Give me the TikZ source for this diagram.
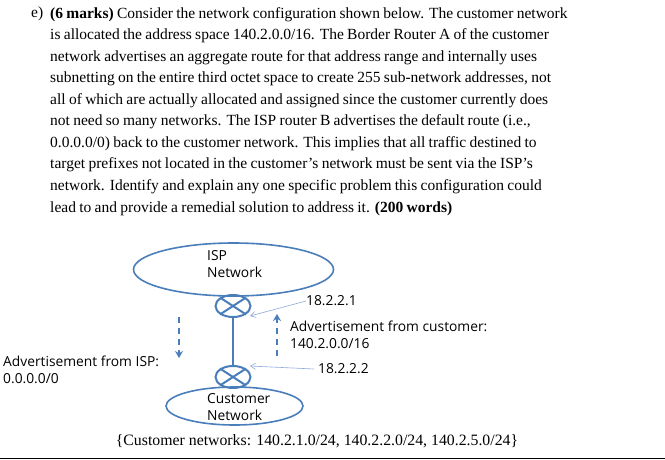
\documentclass[tikz,border=0pt]{standalone}
\usepackage{fontspec}
\setmainfont{Liberation Serif}
\newfontfamily\dg{Open Sans}
\usetikzlibrary{arrows.meta,shapes.geometric}
\definecolor{lb}{HTML}{4A7EBB}
\definecolor{thinb}{HTML}{8FAADC}
\tikzset{
 net/.style={draw=lb,line width=1.6pt},
 lbl/.style={font=\dg\fontsize{13.8}{16.5}\selectfont,anchor=west,inner sep=0pt,align=left},
 ptr/.style={draw=thinb,line width=0.6pt,-{Straight Barb[length=5pt,width=6pt]}},
 adv/.style={draw=lb,line width=1.8pt,dash pattern=on 6pt off 5pt,-{Stealth[length=7pt,width=8pt]}}
}
\begin{document}
\begin{tikzpicture}[x=1pt,y=-1pt]
\useasboundingbox[fill=white] (0,0) rectangle (665,459);
\node[anchor=north west,inner sep=0pt] (e) at (31,7) {\fontsize{15.5}{21.55}\selectfont e)};
\node[anchor=north west,inner sep=0pt,text width=520pt] (para) at (50,7) {\fontsize{15.5}{21.55}\selectfont
\textbf{(6 marks)} Consider the network configuration shown below. The customer network\linebreak is allocated the address space 140.2.0.0/16. The Border Router A of the customer\linebreak network advertises an aggregate route for that address range and internally uses\linebreak subnetting on the entire third octet space to create 255 sub-network addresses, not\linebreak all of which are actually allocated and assigned since the customer currently does\linebreak not need so many networks. The ISP router B advertises the default route (i.e.,\linebreak 0.0.0.0/0) back to the customer network. This implies that all traffic destined to\linebreak target prefixes not located in the customer's network must be sent via the ISP's\linebreak network. Identify and explain any one specific problem this configuration could\linebreak lead to and provide a remedial solution to address it. \textbf{(200 words)}\par};
% networks
\draw[net] (233.5,269.5) ellipse [x radius=100,y radius=26.5];
\node[lbl] (isp) at (207,264) {ISP\\Network};
\draw[net] (234.5,406) ellipse [x radius=68.5,y radius=19];
\node[lbl] (cus) at (207,407) {Customer\\Network};
% routers
\foreach \n/\y in {ra/306,rb/377}{
 \node[draw=lb,line width=2pt,ellipse,minimum width=35pt,minimum height=22pt,inner sep=0pt] (\n) at (233,\y) {};
 \draw[lb,line width=2pt] (\n.north east)--(\n.south west) (\n.north west)--(\n.south east);
}
\draw[lb,line width=2pt] (ra.south)--(rb.north);
% labels
\node[lbl] (a1) at (306,301) {18.2.2.1};
\node[lbl] (a2) at (318,369) {18.2.2.2};
\draw[ptr] (a1.west)--(250,316);
\draw[ptr] ([xshift=-4pt]a2.west)--(250,366);
\node[lbl] (ac) at (290,335) {Advertisement from customer:\\140.2.0.0/16};
\node[lbl] (ai) at (3,370) {Advertisement from ISP:\\0.0.0.0/0};
\coordinate (u1) at (277,356); \coordinate (u2) at (277,314);
\draw[adv] (u1)--(u2);
\coordinate (d1) at (179,317); \coordinate (d2) at (179,358);
\draw[adv] (d1)--(d2);
\node[inner sep=0pt] (note) at (317,441) {\fontsize{15.8}{18}\selectfont\{Customer networks: 140.2.1.0/24, 140.2.2.0/24, 140.2.5.0/24\}};
\draw[line width=1pt] (0,458)--(665,458);
\end{tikzpicture}
\end{document}
